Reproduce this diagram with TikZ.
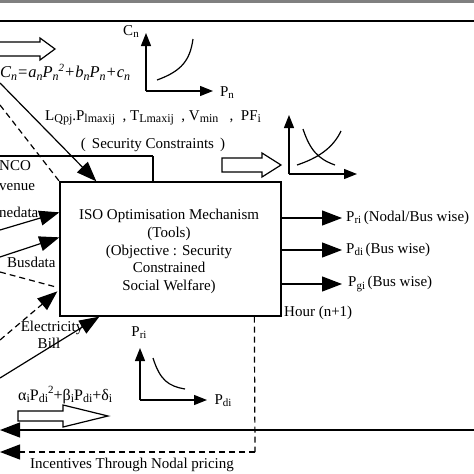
\documentclass[tikz,border=0pt]{standalone}
\usepackage{fontspec}
\setmainfont{Liberation Serif}
\usetikzlibrary{arrows.meta,calc}
\newcommand{\sbs}[1]{\raisebox{-0.3ex}{\fontsize{11}{11}\selectfont #1}}
\newcommand{\sps}[1]{\raisebox{0.9ex}{\fontsize{11}{11}\selectfont #1}}
\newcommand{\sbb}[1]{\raisebox{-0.3ex}{\fontsize{12}{12}\selectfont #1}}
\begin{document}
\begin{tikzpicture}[x=1pt,y=-1pt,
  ln/.style={line width=1.2pt},
  arr/.style={ln,-{Triangle[length=20pt,width=15pt]}},
  dln/.style={ln,dash pattern=on 6pt off 4pt},
  darr/.style={arr,dash pattern=on 6pt off 4pt},
  hollow/.style={line width=1.2pt,fill=white,line join=miter},
  lbl/.style={font=\fontsize{15}{17.7}\selectfont,inner sep=0pt},
  axis/.style={line width=1.3pt,-{Triangle[length=13pt,width=10pt]}},
  crv/.style={line width=1.2pt}]
\useasboundingbox (0,0) rectangle (474,474);
% top rules
\fill[gray] (0,0) rectangle (474,2.5);
\draw[line width=1.5pt] (0,21) -- (474,21);

% main box
\node[draw,line width=1.3pt,minimum width=221pt,minimum height=134pt,inner sep=0pt] (iso) at (170.5,249) {};
\node[lbl,align=center] (isotxt) at (169,251.5) {ISO Optimisation Mechanism\\(Tools)\\(Objective : Security\\Constrained\\Social Welfare)};

% outputs
\coordinate (pr) at (342,218);
\coordinate (pd) at (342,250);
\coordinate (pg) at (342,284);
\draw[arr] (iso.east |- pr) -- (pr);
\draw[arr] (iso.east |- pd) -- (pd);
\draw[arr] (iso.east |- pg) -- (pg);
\node[lbl,anchor=west] (prl) at (346,218) {P\sbs{ri}\,(Nodal/Bus wise)};
\node[lbl,anchor=west] (pdl) at (346,250) {P\sbs{di}\,(Bus wise)};
\node[lbl,anchor=west] (pgl) at (348,284) {P\sbs{gi}\,(Bus wise)};
\node[lbl,anchor=west] (hour) at (284,313) {Hour (n+1)};

% top hollow arrow and cost function
\draw[hollow] (0,42) -- (40,42) -- (40,38) -- (55,49) -- (40,60) -- (40,56) -- (0,56);
\node[lbl,anchor=west,font=\fontsize{16.5}{18}\selectfont] (cost) at (0,72) {\textit{C\sbb{n}=a\sbb{n}P\sbb{n}\sps{2}+b\sbb{n}P\sbb{n}+c\sbb{n}}};

% top chart
\coordinate (o1) at (146,91);
\coordinate (o1y) at (146,33);
\coordinate (o1x) at (213,91);
\draw[axis] (o1) -- (o1y);
\draw[axis] (o1) -- (o1x);
\node[lbl] (cnl) at (131,32) {C\sbs{n}};
\node[lbl] (pnl) at (227,93) {P\sbs{n}};
\draw[crv] (157,80) .. controls (182,71) and (190,60) .. (193,39);

% security constraints
\node[lbl,anchor=west] (sec) at (45,118) {L\sbb{Qpj}.P\sbb{lmaxij}\ \ , T\sbb{Lmaxij}\ \ , V\sbb{min}\ \ \ , \ PF\sbb{i}};
\node[lbl] (secc) at (153,145) {(\hspace{6pt}Security Constraints\hspace{6pt})};
\draw[ln] (0,156) -- (153,156);
\draw[ln] (153,156) -- (iso.north -| 153,0);

% right hollow arrow and chart
\draw[hollow] (222,158) -- (262,158) -- (262,153) -- (281,165) -- (262,177) -- (262,172) -- (222,172) -- cycle;
\coordinate (o2) at (289,174);
\coordinate (o2y) at (289,115);
\coordinate (o2x) at (357,174);
\draw[axis] (o2) -- (o2y);
\draw[axis] (o2) -- (o2x);
\draw[crv] (303,129) .. controls (310,150) and (318,159) .. (335,165);
\draw[crv] (297,165) .. controls (318,158) and (333,148) .. (341,131);

% left inputs
\node[lbl,anchor=west] (gen) at (-1,166) {NCO};
\node[lbl,anchor=west] (rev) at (-1,187) {venue};
\node[lbl,anchor=west] (line) at (-1,212) {nedata};
\node[lbl,anchor=west] (bus) at (7,262) {Busdata};
\coordinate (s1) at (0,83);
\coordinate (s2) at (0,105);
\coordinate (s3) at (0,230);
\coordinate (s4) at (0,257);
\coordinate (s5) at (0,272);
\coordinate (s6) at (0,340);
\coordinate (s7) at (0,378);
\draw[arr] (s1) -- ($(iso.north west)+(37,0)$);
\draw[dln] (s2) -- (iso.north west);
\draw[arr] (s3) -- ($(iso.north west)+(0,31)$);
\draw[arr] (s4) -- ($(iso.north west)+(0,56)$);
\draw[dln] (s5) -- ($(iso.north west)+(-2,106)$);
\draw[darr] (s6) -- ($(iso.north west)+(-2,110)$);
\draw[arr] (s7) -- ($(iso.south west)+(40,0)$);
\node[lbl] (elec) at (52,328) {Electricity};
\node[lbl] (bill) at (49,343) {Bill};

% bottom chart and demand function
\node[lbl,anchor=west,font=\fontsize{16}{18}\selectfont] (dem) at (18,395) {α\sbb{i}P\sbb{di}\sps{2}+β\sbb{i}P\sbb{di}+δ\sbb{i}};
\draw[hollow] (18,411) -- (63,411) -- (63,405) -- (108,416) -- (63,427) -- (63,421) -- (18,421) -- cycle;
\coordinate (o3) at (140,400);
\coordinate (o3y) at (140,348);
\coordinate (o3x) at (207,400);
\draw[axis] (o3) -- (o3y);
\draw[axis] (o3) -- (o3x);
\node[lbl] (pril) at (139,333) {P\sbs{ri}};
\node[lbl] (pdil) at (223,401) {P\sbs{di}};
\draw[crv] (153,358) .. controls (160,380) and (168,386) .. (185,389);

% feedback lines
\coordinate (fb) at (255,452);
\coordinate (fe) at (0,452);
\draw[dln] ($(iso.south west)+(195,0)$) -- (fb);
\draw[darr] (fb) -- (fe);
\coordinate (hr) at (474,430);
\coordinate (hl) at (0,430);
\draw[arr] (hr) -- (hl);
\node[lbl,anchor=west] (inc) at (30,465) {Incentives Through Nodal pricing};
\end{tikzpicture}
\end{document}
